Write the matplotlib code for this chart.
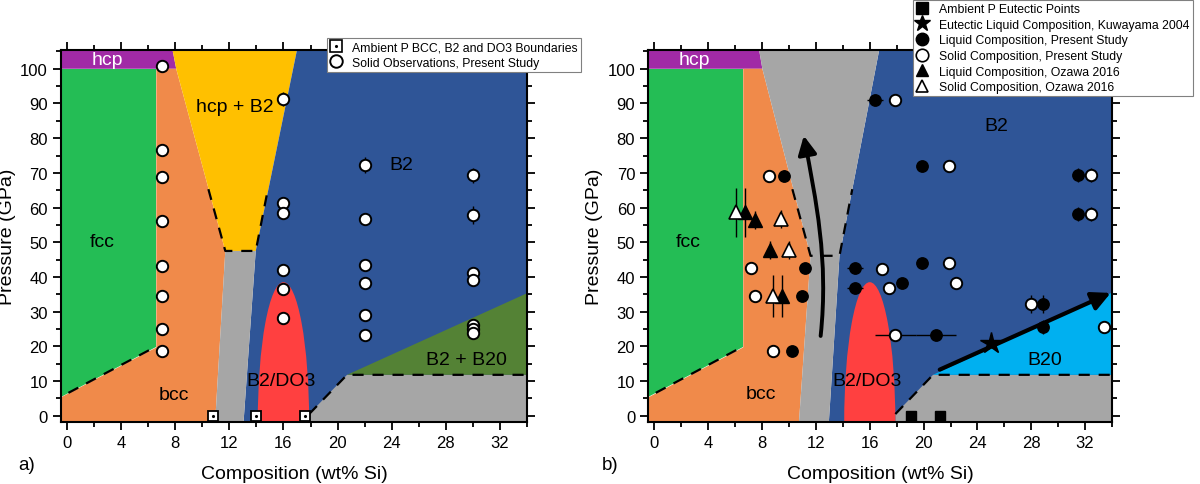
import numpy as np
import matplotlib
matplotlib.use("Agg")
import matplotlib.pyplot as plt
from matplotlib.patches import Polygon, Ellipse, FancyArrowPatch
from matplotlib.path import Path
from matplotlib.lines import Line2D
from matplotlib.ticker import MultipleLocator

plt.rcParams['font.family'] = ['Liberation Sans', 'DejaVu Sans']

# ---------------- data ----------------
# Panel a: solid observations, present study
a_solid_x = [7, 7, 7, 7, 7, 7, 7, 7,
             16, 16, 16, 16, 16, 16,
             22, 22, 22, 22, 22, 22,
             30, 30, 30, 30, 30, 30, 30]
a_solid_y = [100.8, 76.6, 68.8, 56.2, 43.2, 34.6, 24.9, 18.6,
             91.2, 61.2, 58.4, 42.1, 36.5, 28.2,
             72.3, 56.7, 43.4, 38.2, 29.1, 23.3,
             69.3, 57.9, 41.0, 39.2, 26.3, 25.0, 23.8]
a_solid_yerr = [0.8, 0.8, 0.8, 0.8, 0.8, 0.8, 0.8, 0.8,
                2.0, 1.0, 1.0, 1.0, 1.0, 1.0,
                2.2, 1.0, 1.0, 1.0, 1.0, 1.0,
                2.2, 2.5, 2.0, 1.0, 1.0, 1.0, 1.0]
# Ambient P bcc, B2 and DO3 boundaries
amb_bound_x = [10.8, 14.0, 17.6]
amb_bound_y = [0, 0, 0]

# Panel b
eut_amb_x = [19.1, 21.2]
eut_amb_y = [0, 0]
kuwayama_x = [25.0]
kuwayama_y = [21.0]
liq_x = [16.4, 19.9, 9.6, 11.2, 11.0, 10.2, 14.9, 14.9, 18.4, 19.9, 20.9, 28.9, 28.9, 31.5, 31.5]
liq_y = [91.0, 72.0, 69.2, 42.5, 34.6, 18.6, 42.5, 36.8, 38.3, 43.9, 23.3, 32.2, 25.5, 69.5, 58.1]
liq_xerr = [0.6, 0, 0, 0, 0, 0, 0.6, 0.6, 0, 0, 1.5, 0, 0, 0, 0]
liq_yerr = [1.5, 1.5, 1.5, 1.0, 1.0, 1.5, 1.5, 1.5, 1.0, 1.5, 1.0, 2.5, 2.0, 2.0, 2.0]
sol_x = [17.9, 21.9, 8.5, 7.2, 7.5, 8.8, 16.9, 17.4, 21.9, 22.4, 17.9, 28.0, 33.4, 32.4, 32.4]
sol_y = [91.0, 72.0, 69.2, 42.5, 34.6, 18.6, 42.3, 36.8, 43.9, 38.4, 23.3, 32.2, 25.5, 69.5, 58.1]
sol_xerr = [0, 0, 0, 0, 0, 0, 0, 0, 0, 0, 1.5, 0, 0, 0, 0]
sol_yerr = [1.5, 1.5, 1.0, 1.0, 1.0, 1.0, 1.0, 1.5, 1.5, 1.5, 1.0, 2.5, 1.5, 2.0, 2.0]
oz_liq_x = [6.7, 7.5, 8.6, 9.5]
oz_liq_y = [58.6, 56.4, 47.8, 34.6]
oz_liq_yerr = [7.0, 2.5, 2.5, 6.0]
oz_sol_x = [6.05, 9.4, 10.0, 8.8]
oz_sol_y = [58.6, 56.7, 47.8, 34.6]
oz_sol_yerr = [7.0, 2.5, 2.5, 6.0]

# ---------------- styling ----------------
XMIN, XMAX, YMIN, YMAX = -0.45, 34.0, -1.8, 105.4
C_HCP = '#A12AA6'
C_FCC = '#24BD55'
C_BCC = '#F08A4A'
C_YEL = '#FFC000'
C_GRY = '#A6A6A6'
C_B2 = '#2F5597'
C_RED = '#FF4040'
C_B2B20 = '#548235'
C_B20 = '#00B0F0'
MS_C = 8.2

fig = plt.figure(figsize=(12, 4.85), dpi=100)
axA = fig.add_axes([0.0508, 0.1278, 0.3883, 0.767])
axB = fig.add_axes([0.5403, 0.1278, 0.3864, 0.767])


def poly(ax, pts, color, z=1.0):
    ax.add_patch(Polygon(pts, closed=True, facecolor=color, edgecolor='none', zorder=z))


def dashed(ax, xs, ys):
    ax.plot(xs, ys, color='black', lw=1.6, ls=(0, (5, 4)), zorder=3)


def common(ax):
    ax.set_xlim(XMIN, XMAX)
    ax.set_ylim(YMIN, YMAX)
    ax.xaxis.set_major_locator(MultipleLocator(4))
    ax.xaxis.set_minor_locator(MultipleLocator(2))
    ax.yaxis.set_major_locator(MultipleLocator(10))
    ax.yaxis.set_minor_locator(MultipleLocator(5))
    ax.tick_params(which='both', direction='out', top=True, right=True,
                   labeltop=False, labelright=False, width=1.3)
    ax.tick_params(which='major', length=6, labelsize=12)
    ax.tick_params(which='minor', length=3.5)
    for s in ax.spines.values():
        s.set_linewidth(1.5)
    ax.set_xlabel('Composition (wt% Si)', fontsize=14, labelpad=11)
    ax.set_ylabel('Pressure (GPa)', fontsize=14, labelpad=3)
    # fcc
    poly(ax, [(XMIN, 5.3), (XMIN, 100), (6.6, 100), (6.6, 19.7)], C_FCC)
    # gray bottom right
    poly(ax, [(17.9, YMIN), (17.9, 0.5), (20.7, 11.8), (XMAX, 11.8), (XMAX, YMIN)], C_GRY, 1.5)
    ax.add_patch(Ellipse((16.0, YMIN), 3.8, 2 * (38.5 - YMIN), facecolor=C_RED,
                         edgecolor='none', zorder=2))
    dashed(ax, [0.1, 6.55], [6.6, 19.9])
    dashed(ax, [17.9, 20.7, XMAX], [0.5, 11.8, 11.8])


tk = dict(fontsize=14, ha='center', va='center', zorder=7)

# ---------- panel a ----------
common(axA)
poly(axA, [(XMIN, 100), (XMIN, YMAX), (7.8, YMAX), (8.07, 100)], C_HCP)
poly(axA, [(XMIN, YMIN), (XMIN, 5.3), (6.6, 19.7), (6.6, 100), (8.07, 100), (11.7, 47.5), (10.95, YMIN)], C_BCC)
poly(axA, [(7.8, YMAX), (17.0, YMAX), (13.95, 47.5), (11.7, 47.5), (8.07, 100)], C_YEL)
poly(axA, [(11.7, 47.5), (13.95, 47.5), (13.05, YMIN), (10.95, YMIN)], C_GRY, 1.5)
poly(axA, [(17.0, YMAX), (XMAX, YMAX), (XMAX, YMIN), (13.05, YMIN), (13.95, 47.5)], C_B2)
poly(axA, [(20.7, 11.8), (XMAX, 35.3), (XMAX, 11.8)], C_B2B20, 1.6)
dashed(axA, [10.45, 11.7, 13.95, 14.85], [65.3, 47.5, 47.5, 65.3])

axA.errorbar(a_solid_x, a_solid_y, yerr=a_solid_yerr, fmt='o', ms=MS_C, mfc='white',
             mec='black', mew=1.4, ecolor='black', elinewidth=1, capsize=0, zorder=5)
axA.plot(amb_bound_x, amb_bound_y, ls='none', marker='s', ms=7, mfc='white', mec='black',
         mew=1.3, zorder=5)
axA.plot(amb_bound_x, amb_bound_y, ls='none', marker='.', ms=2.5, color='black', zorder=6)

axA.text(3.0, 102.6, 'hcp', color='white', **tk)
axA.text(12.4, 89.0, 'hcp + B2', **tk)
axA.text(2.6, 50.3, 'fcc', **tk)
axA.text(7.9, 6.0, 'bcc', **tk)
axA.text(15.85, 10.1, 'B2/DO3', **tk)
axA.text(24.7, 72.5, 'B2', **tk)
axA.text(29.5, 16.3, 'B2 + B20', **tk)

hA1 = (Line2D([], [], ls='none', marker='s', ms=8, mfc='white', mec='black', mew=1.2),
       Line2D([], [], ls='none', marker='.', ms=2.5, color='black'))
hA2 = Line2D([], [], ls='none', marker='o', ms=9, mfc='white', mec='black', mew=1.4)
legA = fig.legend([hA1, hA2], ['Ambient P BCC, B2 and DO3 Boundaries',
                               'Solid Observations, Present Study'],
                  loc='upper left', bbox_to_anchor=(327 / 1200, 1 - 39 / 485),
                  fontsize=8.8, frameon=True, fancybox=False, edgecolor='#808080',
                  framealpha=1, handlelength=1.0, handletextpad=0.8, borderpad=0.25,
                  labelspacing=0.3, borderaxespad=0)
legA.get_frame().set_linewidth(0.8)

# ---------- panel b ----------
common(axB)
poly(axB, [(XMIN, 100), (XMIN, YMAX), (7.78, YMAX), (8.02, 100)], C_HCP)
poly(axB, [(XMIN, YMIN), (XMIN, 5.3), (6.6, 19.7), (6.6, 100), (8.02, 100), (11.6, 46.1), (10.74, YMIN)], C_BCC)
poly(axB, [(7.78, YMAX), (16.7, YMAX), (13.75, 46.1), (12.96, YMIN), (10.74, YMIN),
           (11.6, 46.1), (8.02, 100)], C_GRY, 1.5)
poly(axB, [(16.7, YMAX), (XMAX, YMAX), (XMAX, YMIN), (12.96, YMIN), (13.75, 46.1)], C_B2)
poly(axB, [(20.7, 11.8), (XMAX, 35.5), (XMAX, 11.8)], C_B20, 1.6)
dashed(axB, [10.25, 11.6, 13.75, 14.7], [65.3, 46.1, 46.1, 65.3])

# arrows
axB.add_patch(FancyArrowPatch((21.2, 13.3), (33.9, 35.4), arrowstyle='-|>',
                              mutation_scale=28, lw=3, color='black', zorder=6,
                              shrinkA=0, shrinkB=0))
curve = Path([(12.35, 23.0), (12.95, 45.0), (12.0, 62.0), (11.1, 80.7)],
             [Path.MOVETO, Path.CURVE4, Path.CURVE4, Path.CURVE4])
axB.add_patch(FancyArrowPatch(path=curve, arrowstyle='-|>', mutation_scale=28, lw=2.8,
                              color='black', zorder=6))

axB.errorbar(liq_x, liq_y, xerr=liq_xerr, yerr=liq_yerr, fmt='o', ms=MS_C, mfc='black',
             mec='black', ecolor='black', elinewidth=1, capsize=0, zorder=5)
axB.errorbar(sol_x, sol_y, xerr=sol_xerr, yerr=sol_yerr, fmt='o', ms=MS_C, mfc='white',
             mec='black', mew=1.4, ecolor='black', elinewidth=1, capsize=0, zorder=5)
axB.errorbar(oz_liq_x, oz_liq_y, yerr=oz_liq_yerr, fmt='^', ms=9.5, mfc='black',
             mec='black', ecolor='black', elinewidth=1, capsize=0, zorder=5)
axB.errorbar(oz_sol_x, oz_sol_y, yerr=oz_sol_yerr, fmt='^', ms=9.5, mfc='white',
             mec='black', mew=1.2, ecolor='black', elinewidth=1, capsize=0, zorder=5)
axB.plot(eut_amb_x, eut_amb_y, ls='none', marker='s', ms=7.5, color='black', zorder=5)
axB.plot(kuwayama_x, kuwayama_y, ls='none', marker='*', ms=16, color='black', zorder=7)

axB.text(3.0, 102.6, 'hcp', color='white', **tk)
axB.text(2.5, 50.3, 'fcc', **tk)
axB.text(7.9, 6.3, 'bcc', **tk)
axB.text(15.8, 10.1, 'B2/DO3', **tk)
axB.text(25.4, 83.6, 'B2', **tk)
axB.text(29.0, 16.3, 'B20', **tk)

hB = [Line2D([], [], ls='none', marker='s', ms=8, color='black'),
      Line2D([], [], ls='none', marker='*', ms=12, color='black'),
      Line2D([], [], ls='none', marker='o', ms=9, color='black'),
      Line2D([], [], ls='none', marker='o', ms=9, mfc='white', mec='black', mew=1.2),
      Line2D([], [], ls='none', marker='^', ms=9, color='black'),
      Line2D([], [], ls='none', marker='^', ms=9, mfc='white', mec='black', mew=1.2)]
labB = ['Ambient P Eutectic Points', 'Eutectic Liquid Composition, Kuwayama 2004',
        'Liquid Composition, Present Study', 'Solid Composition, Present Study',
        'Liquid Composition, Ozawa 2016', 'Solid Composition, Ozawa 2016']
legB = fig.legend(hB, labB, loc='upper left', bbox_to_anchor=(913 / 1200, 1 - 1 / 485),
                  fontsize=8.8, frameon=True, fancybox=False, edgecolor='#808080',
                  framealpha=1, handlelength=1.0, handletextpad=0.9, borderpad=0.25,
                  labelspacing=0.3, borderaxespad=0)
legB.get_frame().set_linewidth(0.8)

fig.text(18 / 1200, 1 - 466 / 485, 'a)', fontsize=13.5, ha='left', va='center')
fig.text(602 / 1200, 1 - 466 / 485, 'b)', fontsize=13.5, ha='left', va='center')

fig.savefig('out.png', dpi=100)
